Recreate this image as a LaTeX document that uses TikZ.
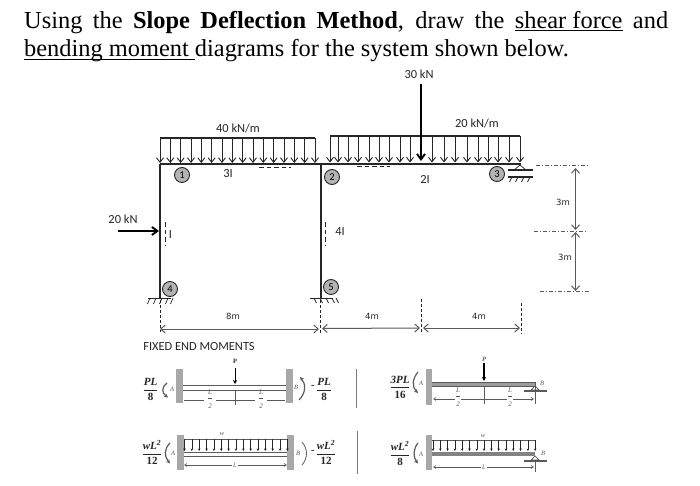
\documentclass[tikz,border=0pt]{standalone}
\usepackage{fontspec}
\setmainfont{Liberation Serif}
\newfontfamily\calfnt{Carlito}
\newfontfamily\djfnt{DejaVu Sans}
\usetikzlibrary{arrows.meta,calc}
\definecolor{ink}{HTML}{262626}
\definecolor{dimc}{HTML}{5A5A5A}
\definecolor{wallc}{HTML}{A8A8A8}
\definecolor{jointc}{HTML}{B4B4B4}
\newcommand{\fixfrac}[2]{{\renewcommand{\arraystretch}{1.0}\setlength{\tabcolsep}{0pt}\begin{tabular}{c}#1\\[1pt]\hline\rule{0pt}{10.5pt}#2\end{tabular}}}
\newsavebox{\ulbox}
\newcommand{\lowul}[1]{\sbox{\ulbox}{#1}\rlap{\rule[-2.9pt]{\wd\ulbox}{0.9pt}}\usebox{\ulbox}}
\tikzset{
 titletext/.style={font=\fontsize{24.4}{28}\selectfont,anchor=base west,inner sep=0pt,text=black},
 lab/.style={font=\calfnt\fontsize{12.4}{13}\selectfont,inner sep=0pt,text=ink},
 dimlab/.style={font=\djfnt\fontsize{8.5}{10}\selectfont,inner sep=0pt,text=ink},
 member/.style={draw=ink,line width=1.2pt},
 load/.style={draw=ink,line width=0.9pt,-{Straight Barb[length=4.5pt,width=7pt]}},
 heavy/.style={draw=black,line width=1.9pt,-{Straight Barb[length=5.5pt,width=8pt]}},
 joint/.style={circle,draw=ink,fill=jointc,line width=0.9pt,minimum size=15pt,inner sep=0pt,font=\calfnt\fontsize{10.5}{10}\selectfont},
 dimln/.style={draw=dimc,line width=1pt,{Straight Barb[length=4.5pt,width=8pt]}-{Straight Barb[length=4.5pt,width=8pt]}},
 extln/.style={draw=ink,line width=0.6pt,dash pattern=on 3pt off 2pt},
 axisl/.style={draw=dimc,line width=0.7pt,dash pattern=on 4pt off 2pt on 1pt off 2pt},
 reinf/.style={draw=ink,line width=1pt,dash pattern=on 4.5pt off 3pt},
 hatch/.style={draw=ink,line width=0.7pt},
 wallb/.style={fill=wallc,draw=none},
 thinln/.style={draw=dimc,line width=0.9pt},
 smalldim/.style={draw=dimc,line width=0.6pt,{Straight Barb[length=2.5pt,width=3pt]}-{Straight Barb[length=2.5pt,width=3pt]}},
 smallar/.style={draw=ink,line width=0.5pt,-{Stealth[length=2.5pt,width=2.5pt]}},
 turn/.style={draw=dimc,line width=1.2pt,-{Stealth[length=4pt,width=4pt]}},
 sym/.style={font=\bfseries\itshape\fontsize{11}{11}\selectfont,inner sep=0pt,text=ink},
 tinyl/.style={font=\itshape\fontsize{6.5}{7}\selectfont,inner sep=0pt,text=dimc},
 sepln/.style={draw=dimc!80,line width=1pt}
}
\begin{document}
\begin{tikzpicture}[x=1pt,y=-1pt]
\useasboundingbox (0,0) rectangle (700,486);
\fill[white] (0,0) rectangle (700,486);
% title
\node[titletext] (t1) at (24,28.5) {\makebox[644pt][s]{Using the \textbf{Slope Deflection Method}, draw the \lowul{shear force} and}};
\node[titletext] (t2) at (24,57) {\lowul{bending moment }diagrams for the system shown below.};
% frame
\coordinate (J1) at (160,164); \coordinate (J2) at (321,164); \coordinate (J3) at (521,164);
\coordinate (J4) at (160,298); \coordinate (J5) at (321,298);
\draw[member] (J1) -- (J3);
\draw[member] (J1) -- (J4);
\draw[member] (J2) -- (J5);
% UDL 1
\coordinate (u1a) at (160,138); \coordinate (u1b) at (315,138);
\draw[member] (u1a) -- (u1b);
\foreach \i in {0,...,15}{\draw[load] ($(u1a)+(\i*10.33,0)$) -- ++(0,25);}
% UDL 2
\coordinate (u2a) at (330,136); \coordinate (u2b) at (520,136);
\draw[member] (u2a) -- (u2b);
\foreach \x in {330,338,348,358,369,379,389,400,410,432,444,455,467,478,488,498,509,520}{\draw[load] (\x,136) -- (\x,162.5);}
% point load
\node[lab] (p30) at (419,74) {30 kN};
\coordinate (p30a) at (421,84); \coordinate (p30b) at (421,161);
\draw[heavy] (p30a) -- (p30b);
\node[lab] (l40) at (238,128) {40 kN/m};
\node[lab] (l20) at (477,123) {20 kN/m};
% joints
\node[joint] (n1) at (182,175) {1};
\node[joint] (n2) at (332,177) {2};
\node[joint] (n3) at (497,174) {3};
\node[joint] (n4) at (170,289) {4};
\node[joint] (n5) at (331,287) {5};
% section labels
\node[lab] (i31) at (228,174) {3I};
\node[lab] (i21) at (425,179) {2I};
\node[lab] (i1) at (170.5,235) {I};
\node[lab] (i41) at (340,232) {4I};
\coordinate (d1a) at (259,168); \coordinate (d1b) at (291,168);
\coordinate (d2a) at (357,167); \coordinate (d2b) at (390,167);
\coordinate (d3a) at (165,222); \coordinate (d3b) at (165,246);
\coordinate (d4a) at (325,222); \coordinate (d4b) at (325,246);
\draw[reinf] (d1a) -- (d1b);
\draw[reinf] (d2a) -- (d2b);
\draw[reinf] (d3a) -- (d3b);
\draw[reinf] (d4a) -- (d4b);
% lateral load
\node[lab] (l20k) at (123,219) {20 kN};
\coordinate (la) at (118,231); \coordinate (lb) at (159,231);
\draw[heavy] (la) -- (lb);
% fixed supports
\draw[hatch,line width=1pt] (148,298) -- (171,298);
\foreach \x in {150,156,162,168,173}{\draw[hatch] (\x,298) -- ++(-2.5,6);}
\draw[hatch,line width=1pt] (310,298) -- (333,298);
\foreach \x in {314,320,326,332,336}{\draw[hatch] (\x,298) -- ++(2.5,5);}
% roller
\coordinate (r3) at (520,165);
\draw[hatch] (r3) -- (514,170) -- (526,170) -- cycle;
\draw[member] (508,170) -- (533,170);
\draw[member] (508,177) -- (533,177);
\foreach \x in {512,518,524,530}{\draw[hatch] (\x,177) -- ++(-2.5,5);}
% dimension lines
\coordinate (e1) at (160,300); \coordinate (e1b) at (160,332);
\coordinate (e2) at (320,300); \coordinate (e2b) at (320,334);
\coordinate (e3) at (421,299); \coordinate (e3b) at (421,334);
\coordinate (e4) at (521,303); \coordinate (e4b) at (521,334);
\draw[extln] (e1) -- (e1b); \draw[extln] (e2) -- (e2b); \draw[extln] (e3) -- (e3b); \draw[extln] (e4) -- (e4b);
\draw[dimln] (160,329) -- (319,329);
\draw[dimln] (322,328.5) -- (420,328);
\draw[dimln] (423,328) -- (520,328);
\node[dimlab] (m8) at (233,316) {8m};
\node[dimlab] (m4a) at (372,316) {4m};
\node[dimlab] (m4b) at (479,316) {4m};
% right dimensions
\draw[axisl] (536,165) -- (588,165);
\draw[axisl] (534,231) -- (586,231);
\draw[axisl] (540,291) -- (591,291);
\draw[dimln] (575.5,168) -- (575.5,230);
\draw[dimln] (575.5,232) -- (575.5,291);
\node[dimlab] (m3a) at (563,202) {3m};
\node[dimlab] (m3b) at (565,257) {3m};
% heading
\node[lab] (fem) at (199,347) {FIXED END MOMENTS};
% separators
\draw[sepln] (356,369) -- (356,408);
\draw[sepln] (357,431) -- (357,474);
%%%% panel 1
\fill[wallb] (176,369) rectangle (183,403);
\fill[wallb] (286,369) rectangle (293,403);
\draw[thinln] (183,385) -- (286,385);
\draw[thinln] (183,390) -- (286,390);
\draw[heavy,line width=1pt,-{Stealth[length=4pt,width=4pt]}] (235,368) -- (235,384);
\node[sym,font=\bfseries\fontsize{6.5}{6}\selectfont] (pp1) at (235,361.5) {P};
\draw[thinln,line width=.6pt] (184,400) -- (204,400) (216,400) -- (255,400) (267,400) -- (285,400);
\draw[thinln,line width=.6pt] (235,391) -- (235,405);
\node[tinyl] (h1a) at (210,400) {\fixfrac{\scriptsize L}{\scriptsize 2}};
\node[tinyl] (h1b) at (261,400) {\fixfrac{\scriptsize L}{\scriptsize 2}};
\node[tinyl] (a1) at (172,389) {A};
\node[tinyl] (b1) at (296,387) {B};
\draw[turn] (167,383) .. controls (161,388) and (162,393) .. (168,397.5);
\draw[turn] (299,400) .. controls (306,393) and (306,384) .. (300,377);
\node[sym] (f1) at (150.5,391) {\fixfrac{PL}{\upshape 8}};
\node[sym] (m1) at (313,387) {-};
\node[sym] (f2) at (324,391) {\fixfrac{PL}{\upshape 8}};
%%%% panel 2
\fill[wallb] (177,435) rectangle (184,470);
\fill[wallb] (287,435) rectangle (294,470);
\draw[thinln] (184,452) -- (287,452);
\draw[thinln] (184,456) -- (287,456);
\draw[thinln,line width=.7pt] (184,439) -- (287,439);
\foreach \i in {0,...,14}{\draw[smallar] ($(184.5,439)+(\i*7.35,0)$) -- ++(0,12);}
\node[tinyl] (w2) at (222,434.5) {w};
\draw[smalldim] (184,465) -- (287,465);
\node[tinyl,fill=white,inner xsep=1.5pt] (l2) at (235,465) {L};
\node[tinyl] (a2) at (173,453) {A};
\node[tinyl] (b2) at (298,453) {B};
\draw[turn] (170,443) .. controls (164,449) and (164,456) .. (170,463.5);
\draw[thinln,line width=.8pt] (302,465) .. controls (308,458) and (308,449) .. (302,442);
\node[sym] (f3) at (152,454) {\fixfrac{wL\textsuperscript{2}}{\upshape 12}};
\node[sym] (m2) at (313,452) {-};
\node[sym] (f4) at (326,454) {\fixfrac{wL\textsuperscript{2}}{\upshape 12}};
%%%% panel 3
\fill[wallb] (426,369) rectangle (432,405);
\fill[dimc!60] (432,382) rectangle (535,386);
\draw[thinln] (432,382) -- (535,382) -- (535,386) -- (432,386);
\draw[heavy,line width=1.2pt,-{Stealth[length=4pt,width=4pt]}] (484,363) -- (484,381);
\node[tinyl] (pp3) at (484,359) {\textbf{P}};
\draw[hatch,dimc] (535,386) -- (531,390) -- (539,390) -- cycle;
\draw[thinln,line width=1.4pt] (524,391) -- (547,391);
\draw[smalldim] (433,399) -- (534,399);
\draw[thinln,line width=.6pt] (484,387) -- (484,404);
\draw[thinln,line width=.6pt] (535,387) -- (535,404);
\node[tinyl,fill=white,inner xsep=1.5pt] (h3a) at (458,398) {\fixfrac{\scriptsize L}{\scriptsize 2}};
\node[tinyl,fill=white,inner xsep=1.5pt] (h3b) at (510,398) {\fixfrac{\scriptsize L}{\scriptsize 2}};
\node[tinyl] (a3) at (421,383) {A};
\node[tinyl] (b3) at (542,383) {B};
\draw[turn] (418,372) .. controls (412,379) and (412,387) .. (418,393);
\node[sym] (f5) at (400,388.5) {\fixfrac{3PL}{\upshape 16}};
%%%% panel 4
\fill[wallb] (426,435) rectangle (432,470);
\fill[dimc!75] (432,452) rectangle (535,456);
\draw[thinln,line width=.7pt] (432,440) -- (535,440);
\foreach \i in {0,...,14}{\draw[smallar] ($(433,440)+(\i*7.3,0)$) -- ++(0,11);}
\node[tinyl] (w4) at (483,436) {w};
\draw[hatch,dimc] (535,456) -- (531,460) -- (539,460) -- cycle;
\draw[thinln,line width=1.4pt] (524,461) -- (547,461);
\draw[smalldim] (433,467) -- (534,467);
\draw[thinln,line width=.6pt] (535,462) -- (535,472);
\node[tinyl,fill=white,inner xsep=1.5pt] (l4) at (484,467) {L};
\node[tinyl] (a4) at (421,454) {A};
\node[tinyl] (b4) at (543,453) {B};
\draw[turn] (418,443) .. controls (413,449) and (413,457) .. (418,463.5);
\node[sym] (f6) at (400,455) {\fixfrac{wL\textsuperscript{2}}{\upshape 8}};
\end{tikzpicture}
\end{document}
